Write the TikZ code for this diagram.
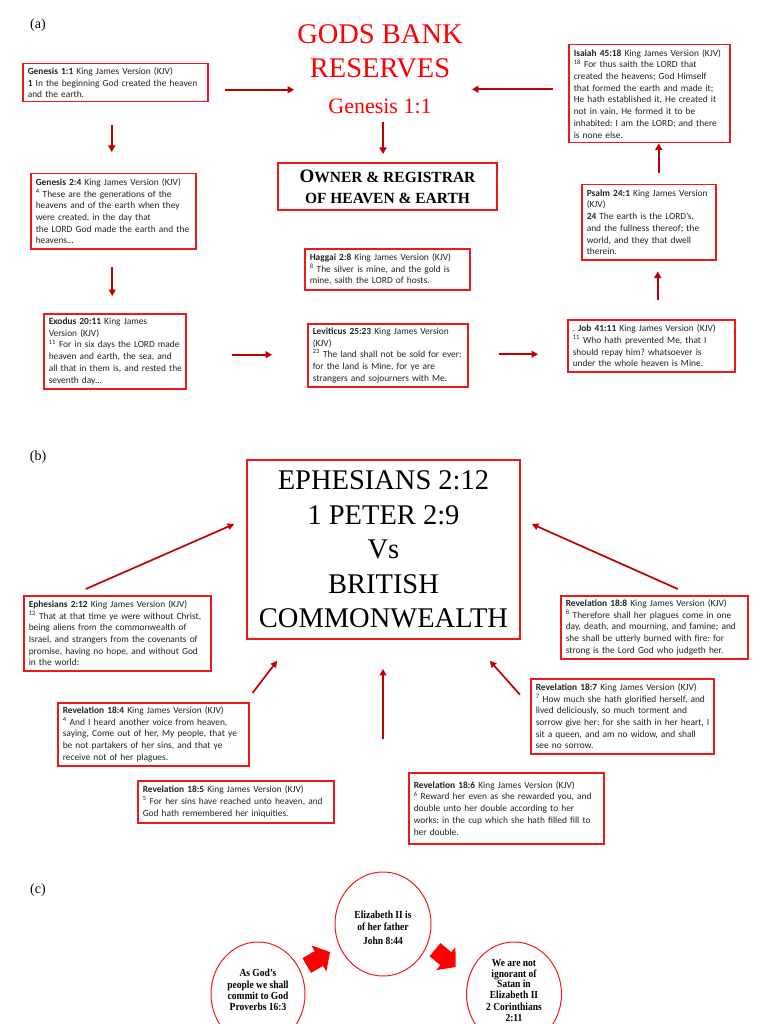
\documentclass[tikz,border=0pt]{standalone}
\usepackage{fontspec}
\setmainfont{Carlito}
\newfontfamily\serifff{Liberation Serif}
\newfontfamily\condserif[FakeStretch=0.88]{Liberation Serif}
\usetikzlibrary{arrows.meta,shapes.geometric}
\definecolor{boxred}{HTML}{F01818}
\definecolor{arrred}{HTML}{C00000}
\definecolor{titred}{HTML}{FF0000}
\definecolor{txt}{HTML}{222222}
\frenchspacing
\newcommand\TLine[1]{\noindent\mbox{#1}\par}
\tikzset{
  vbox/.style={draw=boxred, line width=1.5pt, anchor=north west, inner xsep=5pt, inner ysep=0pt,
    align=left, font=\frenchspacing\fontsize{9.4}{11.7}\selectfont, text=txt},
  arr/.style={draw=arrred, line width=2pt, -{Triangle[length=6.5pt,width=7pt]}},
  barr/.style={draw=arrred, line width=1.7pt, -{Triangle[length=6.5pt,width=6.5pt]}},
  lab/.style={font=\serifff\fontsize{14}{16}\selectfont, text=black},
  ell/.style={ellipse, draw=boxred, line width=1pt, inner sep=0pt, align=center,
    font=\condserif\bfseries\fontsize{10.8}{11.2}\selectfont, text=black},
  blockarr/.style={fill=red, draw=none}
}
\begin{document}
\begin{tikzpicture}[x=1pt,y=-1pt]
\useasboundingbox (0,0) rectangle (768,1024);
\clip (0,0) rectangle (768,1024);

%% ---------------- (a) ----------------
\node[lab] (la) at (38,25) {(a)};

\node[font=\serifff\fontsize{28.5}{33.5}\selectfont, text=titred, align=center, inner sep=3pt] (title) at (380,51.5) {GODS BANK\\RESERVES};
\node[font=\serifff\fontsize{22}{24}\selectfont, text=titred, inner sep=3pt] (gsub) at (380,106) {Genesis 1:1};

\node[draw=boxred, line width=2pt, minimum width=219pt, minimum height=47pt, align=center,
  font=\serifff\bfseries\fontsize{15.5}{21}\selectfont, text=black] (owner) at (387.5,186.5)
  {{\fontsize{19}{21}\selectfont O}WNER \& REGISTRAR\\OF HEAVEN \& EARTH};

\node[vbox, text width=175pt, minimum height=38pt] (gen11) at (22,63) {%
\TLine{\textbf{Genesis 1:1} King James Version (KJV)}%
\TLine{\textbf{1} In the beginning God created the heaven}%
\TLine{and the earth.}};

\node[vbox, text width=155pt, minimum height=75pt] (gen24) at (30,173) {%
\TLine{\textbf{Genesis 2:4} King James Version (KJV)}%
\TLine{\textsuperscript{4} These are the generations of the}%
\TLine{heavens and of the earth when they}%
\TLine{were created, in the day that}%
\TLine{the LORD God made the earth and the}%
\TLine{heavens…}};

\node[vbox, text width=132pt, minimum height=75pt] (exo) at (43,313) {%
\TLine{\textbf{Exodus 20:11} King James}%
\TLine{Version (KJV)}%
\TLine{\textsuperscript{11} For in six days the LORD made}%
\TLine{heaven and earth, the sea, and}%
\TLine{all that in them is, and rested the}%
\TLine{seventh day…}};

\node[vbox, text width=155pt, minimum height=41pt] (hag) at (304,248) {%
\TLine{\textbf{Haggai 2:8} King James Version (KJV)}%
\TLine{\textsuperscript{8} The silver is mine, and the gold is}%
\TLine{mine, saith the LORD of hosts.}};

\node[vbox, text width=150pt, minimum height=63pt] (lev) at (307,323) {%
\TLine{\textbf{Leviticus 25:23} King James Version}%
\TLine{(KJV)}%
\TLine{\textsuperscript{23} The land shall not be sold for ever:}%
\TLine{for the land is Mine, for ye are}%
\TLine{strangers and sojourners with Me.}};

\node[vbox, text width=157pt, minimum height=52pt] (job) at (567,319) {%
\TLine{. \textbf{Job 41:11} King James Version (KJV)}%
\TLine{\textsuperscript{11} Who hath prevented Me, that I}%
\TLine{should repay him? whatsoever is}%
\TLine{under the whole heaven is Mine.}};

\node[vbox, text width=124pt, minimum height=75pt] (psa) at (581,184) {%
\TLine{\textbf{Psalm 24:1} King James Version}%
\TLine{(KJV)}%
\TLine{\textbf{24} The earth is the LORD’s,}%
\TLine{and the fullness thereof; the}%
\TLine{world, and they that dwell}%
\TLine{therein.}};

\node[vbox, text width=151pt, minimum height=98pt] (isa) at (568,44) {%
\TLine{\textbf{Isaiah 45:18} King James Version (KJV)}%
\TLine{\textsuperscript{18} For thus saith the LORD that}%
\TLine{created the heavens; God Himself}%
\TLine{that formed the earth and made it;}%
\TLine{He hath established it, He created it}%
\TLine{not in vain, He formed it to be}%
\TLine{inhabited: I am the LORD; and there}%
\TLine{is none else.}};

% arrows (a)
\draw[arr, shorten <=16pt] ([yshift=-7pt]gen11.east) -- ([yshift=-7pt]gen11.east -| title.west);
\draw[arr, shorten <=15pt, shorten >=6pt] ([yshift=4.5pt]isa.west) -- ([yshift=4.5pt]isa.west -| title.east);
\draw[arr, shorten <=5pt, shorten >=8pt] ([xshift=3pt]gsub.south) -- ([xshift=3pt]gsub.south |- owner.north);
\draw[arr, shorten <=23pt, shorten >=21pt] ([xshift=-3.5pt]gen11.south) -- ([xshift=-3.5pt]gen11.south |- gen24.north);
\draw[arr, shorten <=17pt, shorten >=17pt] ([xshift=-1pt]gen24.south) -- ([xshift=-1pt]gen24.south |- exo.north);
\draw[arr, shorten <=45pt, shorten >=35pt] ([yshift=-3.5pt]exo.east) -- ([yshift=-3.5pt]exo.east -| lev.west);
\draw[arr, shorten <=30pt, shorten >=29pt] ([yshift=1pt]lev.east) -- ([yshift=1pt]lev.east -| job.west);
\draw[arr, shorten <=19pt, shorten >=11pt] ([xshift=6.5pt]job.north) -- ([xshift=6.5pt]job.north |- psa.south);
\draw[arr, shorten <=11pt, shorten >=0pt] ([xshift=10pt]psa.north) -- ([xshift=10pt]psa.north |- isa.south);

%% ---------------- (b) ----------------
\node[lab] (lb) at (38,457) {(b)};

\node[draw=boxred, line width=1.6pt, minimum width=273pt, minimum height=179pt, align=center,
  font=\serifff\fontsize{28.5}{34.5}\selectfont, text=black] (cb) at (383.5,549.5)
  {EPHESIANS 2:12\\1 PETER 2:9\\Vs\\BRITISH\\COMMONWEALTH};

\node[vbox, text width=177pt, minimum height=75pt] (eph) at (23,595) {%
\TLine{\textbf{Ephesians 2:12} King James Version (KJV)}%
\TLine{\textsuperscript{12} That at that time ye were without Christ,}%
\TLine{being aliens from the commonwealth of}%
\TLine{Israel, and strangers from the covenants of}%
\TLine{promise, having no hope, and without God}%
\TLine{in the world:}};

\node[vbox, text width=177pt, minimum height=63pt] (r88) at (560,595) {%
\TLine{\textbf{Revelation 18:8} King James Version (KJV)}%
\TLine{\textsuperscript{8} Therefore shall her plagues come in one}%
\TLine{day, death, and mourning, and famine; and}%
\TLine{she shall be utterly burned with fire: for}%
\TLine{strong is the Lord God who judgeth her.}};

\node[vbox, text width=173pt, minimum height=75pt] (r87) at (530,678) {%
\TLine{\textbf{Revelation 18:7} King James Version (KJV)}%
\TLine{\textsuperscript{7} How much she hath glorified herself, and}%
\TLine{lived deliciously, so much torment and}%
\TLine{sorrow give her: for she saith in her heart, I}%
\TLine{sit a queen, and am no widow, and shall}%
\TLine{see no sorrow.}};

\node[vbox, text width=181pt, minimum height=63pt] (r84) at (57,702) {%
\TLine{\textbf{Revelation 18:4} King James Version (KJV)}%
\TLine{\textsuperscript{4} And I heard another voice from heaven,}%
\TLine{saying, Come out of her, My people, that ye}%
\TLine{be not partakers of her sins, and that ye}%
\TLine{receive not of her plagues.}};

\node[vbox, text width=186pt, minimum height=42pt] (r85) at (137,780) {%
\TLine{\textbf{Revelation 18:5} King James Version (KJV)}%
\TLine{\textsuperscript{5} For her sins have reached unto heaven, and}%
\TLine{God hath remembered her iniquities.}};

\node[vbox, text width=185pt, minimum height=71pt] (r86) at (408,772) {%
\TLine{\textbf{Revelation 18:6} King James Version (KJV)}%
\TLine{\textsuperscript{6} Reward her even as she rewarded you, and}%
\TLine{double unto her double according to her}%
\TLine{works: in the cup which she hath filled fill to}%
\TLine{her double.}};

\coordinate (vstart) at (383,739);

% arrows (b)
\draw[barr] ([xshift=-31.5pt,yshift=6pt]eph.north) -- ([xshift=-12pt,yshift=25.5pt]cb.west);
\draw[barr] ([xshift=23.5pt,yshift=6pt]r88.north) -- ([xshift=11pt,yshift=25.5pt]cb.east);
\draw[barr] ([xshift=-10pt,yshift=21.5pt]r87.west) -- ([xshift=-31pt,yshift=-21pt]cb.south east);
\draw[barr] ([xshift=3pt,yshift=9pt]r84.north east) -- ([xshift=31pt,yshift=-21pt]cb.south west);
\draw[barr, shorten >=29pt] (vstart) -- (vstart |- cb.south);

%% ---------------- (c) ----------------
\node[lab] (lc) at (38,890) {(c)};

\node[ell, minimum width=96pt, minimum height=104pt] (e1) at (383,924)
  {\rule{0pt}{15pt}Elizabeth II is\\[0.8pt]of her father\\[2.5pt]John 8:44};
\node[ell, minimum width=94pt, minimum height=104pt] (e0) at (258,994)
  {As God’s\\people we shall\\commit to God\\Proverbs 16:3\rule[-8pt]{0pt}{8pt}};
\node[ell, minimum width=95pt, minimum height=104pt] (e2) at (514,994)
  {We are not\\[-0.4pt]ignorant of\\[-0.4pt]Satan in\\[-0.4pt]Elizabeth II\\[1pt]2 Corinthians\\[-0.4pt]2:11\rule[-7pt]{0pt}{7pt}};

% block arrows (c)
\fill[blockarr, shift={(318,959)}, rotate=30]
  (-13,-8.5) -- (1,-8.5) -- (1,-15) -- (14,0) -- (1,15) -- (1,8.5) -- (-13,8.5) -- cycle;
\fill[blockarr, shift={(445,958)}, rotate=-40]
  (-13,-8.5) -- (1,-8.5) -- (1,-15) -- (14,0) -- (1,15) -- (1,8.5) -- (-13,8.5) -- cycle;
\end{tikzpicture}
\end{document}
